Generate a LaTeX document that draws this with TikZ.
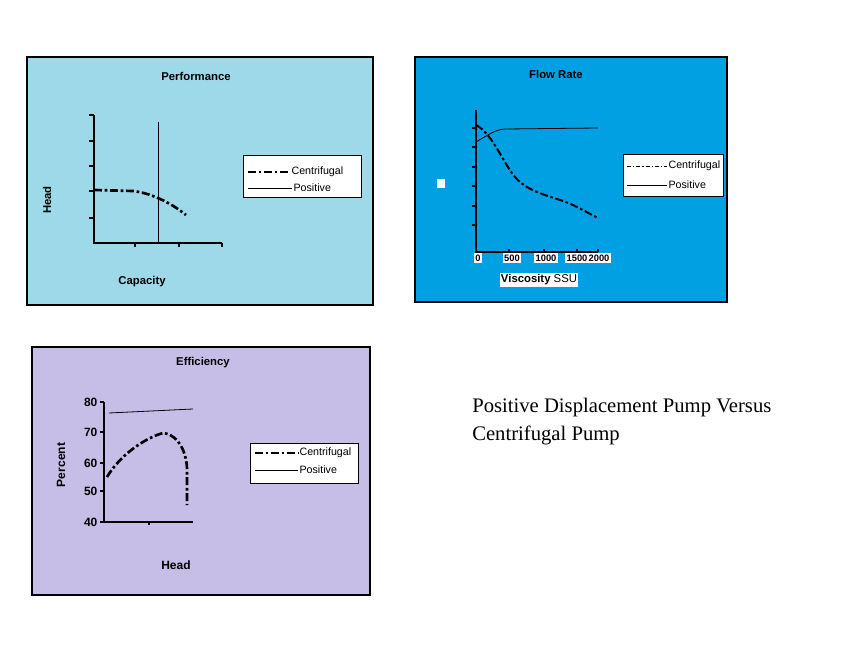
\documentclass[tikz,border=0pt]{standalone}
\usepackage{fontspec}
\setmainfont{Liberation Serif}
\newfontfamily\chf{Liberation Sans}
\begin{document}
\begin{tikzpicture}[x=0.75pt,y=-0.75pt,
  frame/.style={draw=black,line width=0.8pt},
  lbl/.style={font=\chf\bfseries\fontsize{8.5}{9}\selectfont,inner sep=1pt},
  leg/.style={font=\chf\fontsize{8}{9}\selectfont,anchor=west,inner sep=1pt},
  ax/.style={line width=0.9pt},
  cenline/.style={line width=2pt,dash pattern=on 6pt off 2pt on 2pt off 2pt},
  posline/.style={line width=0.6pt}]
\useasboundingbox (0,0) rectangle (853,652);
% chart 1
\path[frame,fill={rgb,255:red,158;green,217;blue,234}] (27,57) rectangle (373,305);
\node[lbl] (t1) at (196,76) {Performance};
\draw[ax] (94,115) -- (94,243) -- (222,243);
\foreach \y in {115,141,166,191,218} \draw[ax] (89,\y) -- (94,\y);
\foreach \x in {135,179,222} \draw[ax] (\x,243) -- (\x,247);
\draw[cenline] (94,190) -- (133,191) .. controls (150,193) and (170,202) .. (186,215);
\draw[posline] (158,122) -- (158,243);
\node[lbl,rotate=90] (h1) at (47,200) {Head};
\node[lbl] (c1) at (142,282) {Capacity};
\path[fill=white,draw,line width=0.6pt] (243,155) rectangle (361,197);
\draw[cenline,line width=1.6pt] (248,172) -- (290,172);
\node[leg] at (290,172) {Centrifugal};
\draw[posline] (248,188) -- (292,188);
\node[leg] at (292,188) {Positive};
% chart 2
\path[frame,fill={rgb,255:red,0;green,160;blue,226}] (415,57) rectangle (727,302);
\node[lbl] (t2) at (556,74) {Flow Rate};
\fill[white] (437,179) rectangle (445,188);
\draw[ax] (476,110) -- (476,252) -- (598,252);
\foreach \y in {128,147,167,186,206,225} \draw[ax] (472,\y) -- (476,\y);
\foreach \x in {509,544,577,598} \draw[ax] (\x,252) -- (\x,249);
\foreach \x/\t in {478/0,512/500,546/1000,577/1500,599/2000}
  \node[lbl,font=\chf\bfseries\fontsize{7}{8}\selectfont,fill=white] at (\x,258) {\t};
\node[lbl,fill=white] (v2) at (539,280) {Viscosity {\mdseries SSU}};
\draw[posline] (476,142) .. controls (488,135) and (496,129) .. (506,129) -- (598,128);
\draw[cenline,line width=1.5pt] (476,125) .. controls (495,135) and (505,170) .. (520,182) .. controls (535,195) and (560,198) .. (575,206) -- (598,218);
\path[fill=white,draw,line width=0.6pt] (623,154) rectangle (723,196);
\draw[dash pattern=on 3pt off 1.5pt on 1pt off 1.5pt,line width=0.5pt] (627,166) -- (667,166);
\node[leg] at (667,166) {Centrifugal};
\draw[posline] (627,185) -- (667,185);
\node[leg] at (667,185) {Positive};
% chart 3
\path[frame,fill={rgb,255:red,198;green,190;blue,230}] (32,347) rectangle (370,595);
\node[lbl] (t3) at (203,363) {Efficiency};
\draw[ax] (104,402) -- (104,522) -- (193,522);
\foreach \y/\t in {402/80,432/70,463/60,491/50,522/40} {
  \draw[ax] (100,\y) -- (104,\y);
  \node[lbl,font=\chf\bfseries\fontsize{9}{10}\selectfont,anchor=east] at (99,\y) {\t};}
\draw[ax] (149,522) -- (149,525);
\node[lbl,rotate=90,font=\chf\bfseries\fontsize{9}{10}\selectfont] (p3) at (61,465) {Percent};
\node[lbl,font=\chf\bfseries\fontsize{9}{10}\selectfont] (h3) at (176,565) {Head};
\draw[posline] (109,413) -- (193,409);
\draw[cenline] (107,477) .. controls (120,455) and (145,438) .. (163,433) .. controls (180,435) and (187,455) .. (187,470) -- (187,505);
\path[fill=white,draw,line width=0.6pt] (250,443) rectangle (358,483);
\draw[cenline,line width=1.6pt] (255,453) -- (298,453);
\node[leg] at (298,453) {Centrifugal};
\draw[posline] (255,470) -- (298,470);
\node[leg] at (298,470) {Positive};
% caption
\node[anchor=west,font=\fontsize{15.5}{21}\selectfont,align=left,inner sep=0pt] (cap) at (472,422) {Positive Displacement Pump Versus\\Centrifugal Pump};
\end{tikzpicture}
\end{document}
